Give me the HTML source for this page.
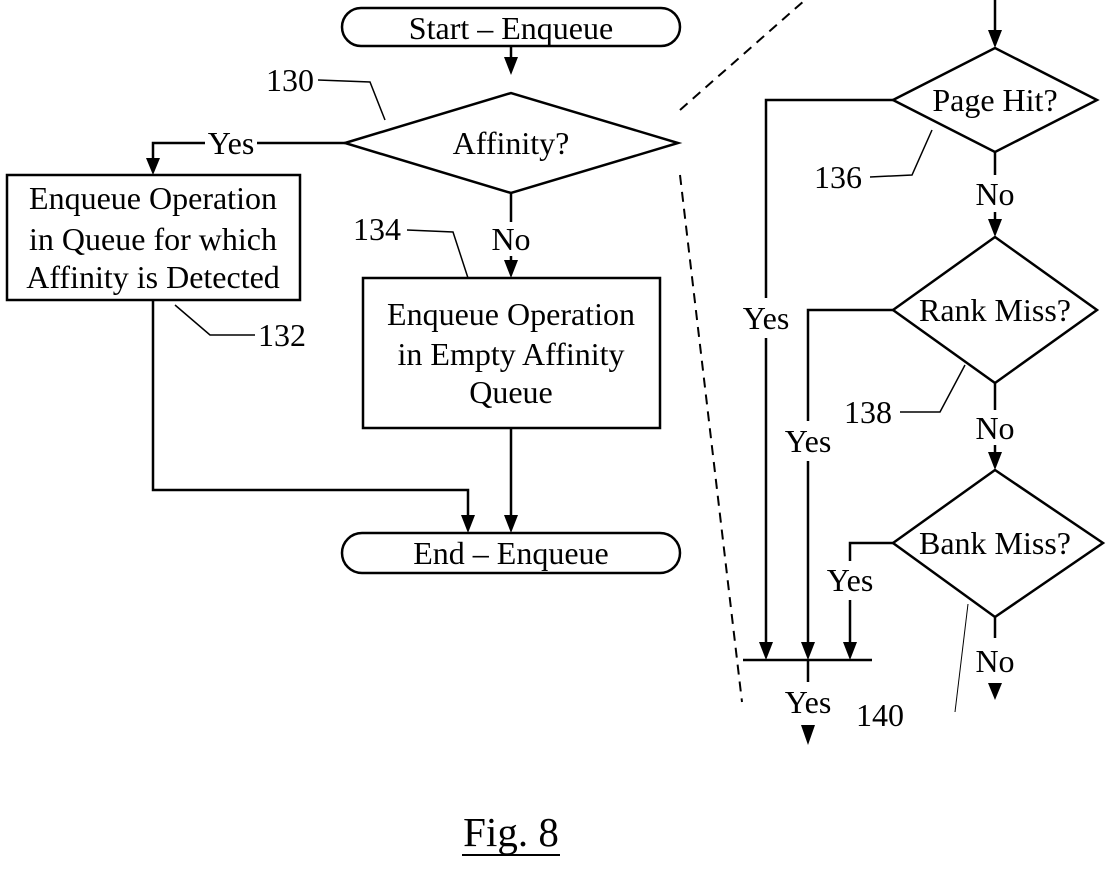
<!DOCTYPE html>
<html><head><meta charset="utf-8"><style>
html,body{margin:0;padding:0;background:#fff;}
svg text{font-family:"Liberation Serif",serif;font-size:32px;fill:#000;}
</style></head><body>
<svg width="1107" height="888" viewBox="0 0 1107 888" xmlns="http://www.w3.org/2000/svg">
<g stroke="#000" stroke-width="2.5" fill="none">
<rect x="342" y="8" width="338" height="38" rx="19"/>
<line x1="511" y1="46" x2="511" y2="60" />
<path d="M504,57 L518,57 L511,75 Z" fill="#000" stroke="none"/>
<polygon points="345,143 511,93 678,143 511,193"/>
<line x1="257" y1="143" x2="345" y2="143"/>
<polyline points="205,143 153,143 153,160"/>
<path d="M146,158 L160,158 L153,175 Z" fill="#000" stroke="none"/>
<rect x="7" y="175" width="293" height="125"/>
<line x1="511" y1="193" x2="511" y2="222"/>
<line x1="511" y1="256" x2="511" y2="265"/>
<path d="M504,260 L518,260 L511,278 Z" fill="#000" stroke="none"/>
<rect x="363" y="278" width="297" height="150"/>
<polyline points="153,300 153,490 468,490 468,520"/>
<path d="M461,515 L475,515 L468,533 Z" fill="#000" stroke="none"/>
<line x1="511" y1="428" x2="511" y2="520"/>
<path d="M504,515 L518,515 L511,533 Z" fill="#000" stroke="none"/>
<rect x="342" y="533" width="338" height="40" rx="20"/>
<line x1="995" y1="0" x2="995" y2="35"/>
<path d="M988,30 L1002,30 L995,48 Z" fill="#000" stroke="none"/>
<polygon points="893,100 995,48 1097,100 995,152"/>
<polyline points="893,100 766,100 766,298"/>
<line x1="766" y1="338" x2="766" y2="645"/>
<path d="M759,642 L773,642 L766,660 Z" fill="#000" stroke="none"/>
<line x1="995" y1="152" x2="995" y2="175"/>
<line x1="995" y1="212" x2="995" y2="222"/>
<path d="M988,219 L1002,219 L995,237 Z" fill="#000" stroke="none"/>
<polygon points="893,310 995,237 1097,310 995,383"/>
<polyline points="893,310 808,310 808,421"/>
<line x1="808" y1="461" x2="808" y2="645"/>
<path d="M801,642 L815,642 L808,660 Z" fill="#000" stroke="none"/>
<line x1="995" y1="383" x2="995" y2="410"/>
<line x1="995" y1="445" x2="995" y2="455"/>
<path d="M988,452 L1002,452 L995,470 Z" fill="#000" stroke="none"/>
<polygon points="893,543 995,470 1103,543 995,617"/>
<polyline points="893,543 850,543 850,561"/>
<line x1="850" y1="600" x2="850" y2="645"/>
<path d="M843,642 L857,642 L850,660 Z" fill="#000" stroke="none"/>
<line x1="743" y1="660" x2="872" y2="660"/>
<line x1="808" y1="660" x2="808" y2="682"/>
<line x1="995" y1="617" x2="995" y2="638"/>
<path d="M988,683 L1002,683 L995,700 Z" fill="#000" stroke="none"/>
<path d="M801,725 L815,725 L808,745 Z" fill="#000" stroke="none"/>
</g>
<g stroke="#000" stroke-width="1.5" fill="none">
<polyline points="318,80 370,82 385,120"/>
<polyline points="407,230 453,232 468,278"/>
<polyline points="255,335 210,335 175,305"/>
<polyline points="870,177 912,175 932,130"/>
<polyline points="900,412 940,412 965,365"/>
<line x1="968" y1="604" x2="955" y2="712" stroke-width="1"/>
</g>
<g stroke="#000" stroke-width="2" stroke-dasharray="10,7">
<line x1="680" y1="110" x2="805" y2="0"/>
<line x1="680" y1="175" x2="742" y2="702"/>
</g>
<g text-anchor="middle">
<text x="511" y="39">Start – Enqueue</text>
<text x="511" y="154">Affinity?</text>
<text x="231" y="154">Yes</text>
<text x="153" y="209">Enqueue Operation</text>
<text x="153" y="250">in Queue for which</text>
<text x="153" y="288">Affinity is Detected</text>
<text x="511" y="250">No</text>
<text x="511" y="325">Enqueue Operation</text>
<text x="511" y="365">in Empty Affinity</text>
<text x="511" y="403">Queue</text>
<text x="511" y="564">End – Enqueue</text>
<text x="290" y="91">130</text>
<text x="377" y="240">134</text>
<text x="282" y="346">132</text>
<text x="995" y="111">Page Hit?</text>
<text x="838" y="188">136</text>
<text x="995" y="205">No</text>
<text x="766" y="329">Yes</text>
<text x="995" y="321">Rank Miss?</text>
<text x="868" y="423">138</text>
<text x="995" y="439">No</text>
<text x="808" y="452">Yes</text>
<text x="995" y="554">Bank Miss?</text>
<text x="850" y="591">Yes</text>
<text x="995" y="672">No</text>
<text x="808" y="713">Yes</text>
<text x="880" y="726">140</text>
<text x="511" y="846" style="font-size:41px">Fig. 8</text>
</g>
<line x1="462" y1="855" x2="560" y2="855" stroke="#000" stroke-width="2"/>
</svg>
</body></html>
